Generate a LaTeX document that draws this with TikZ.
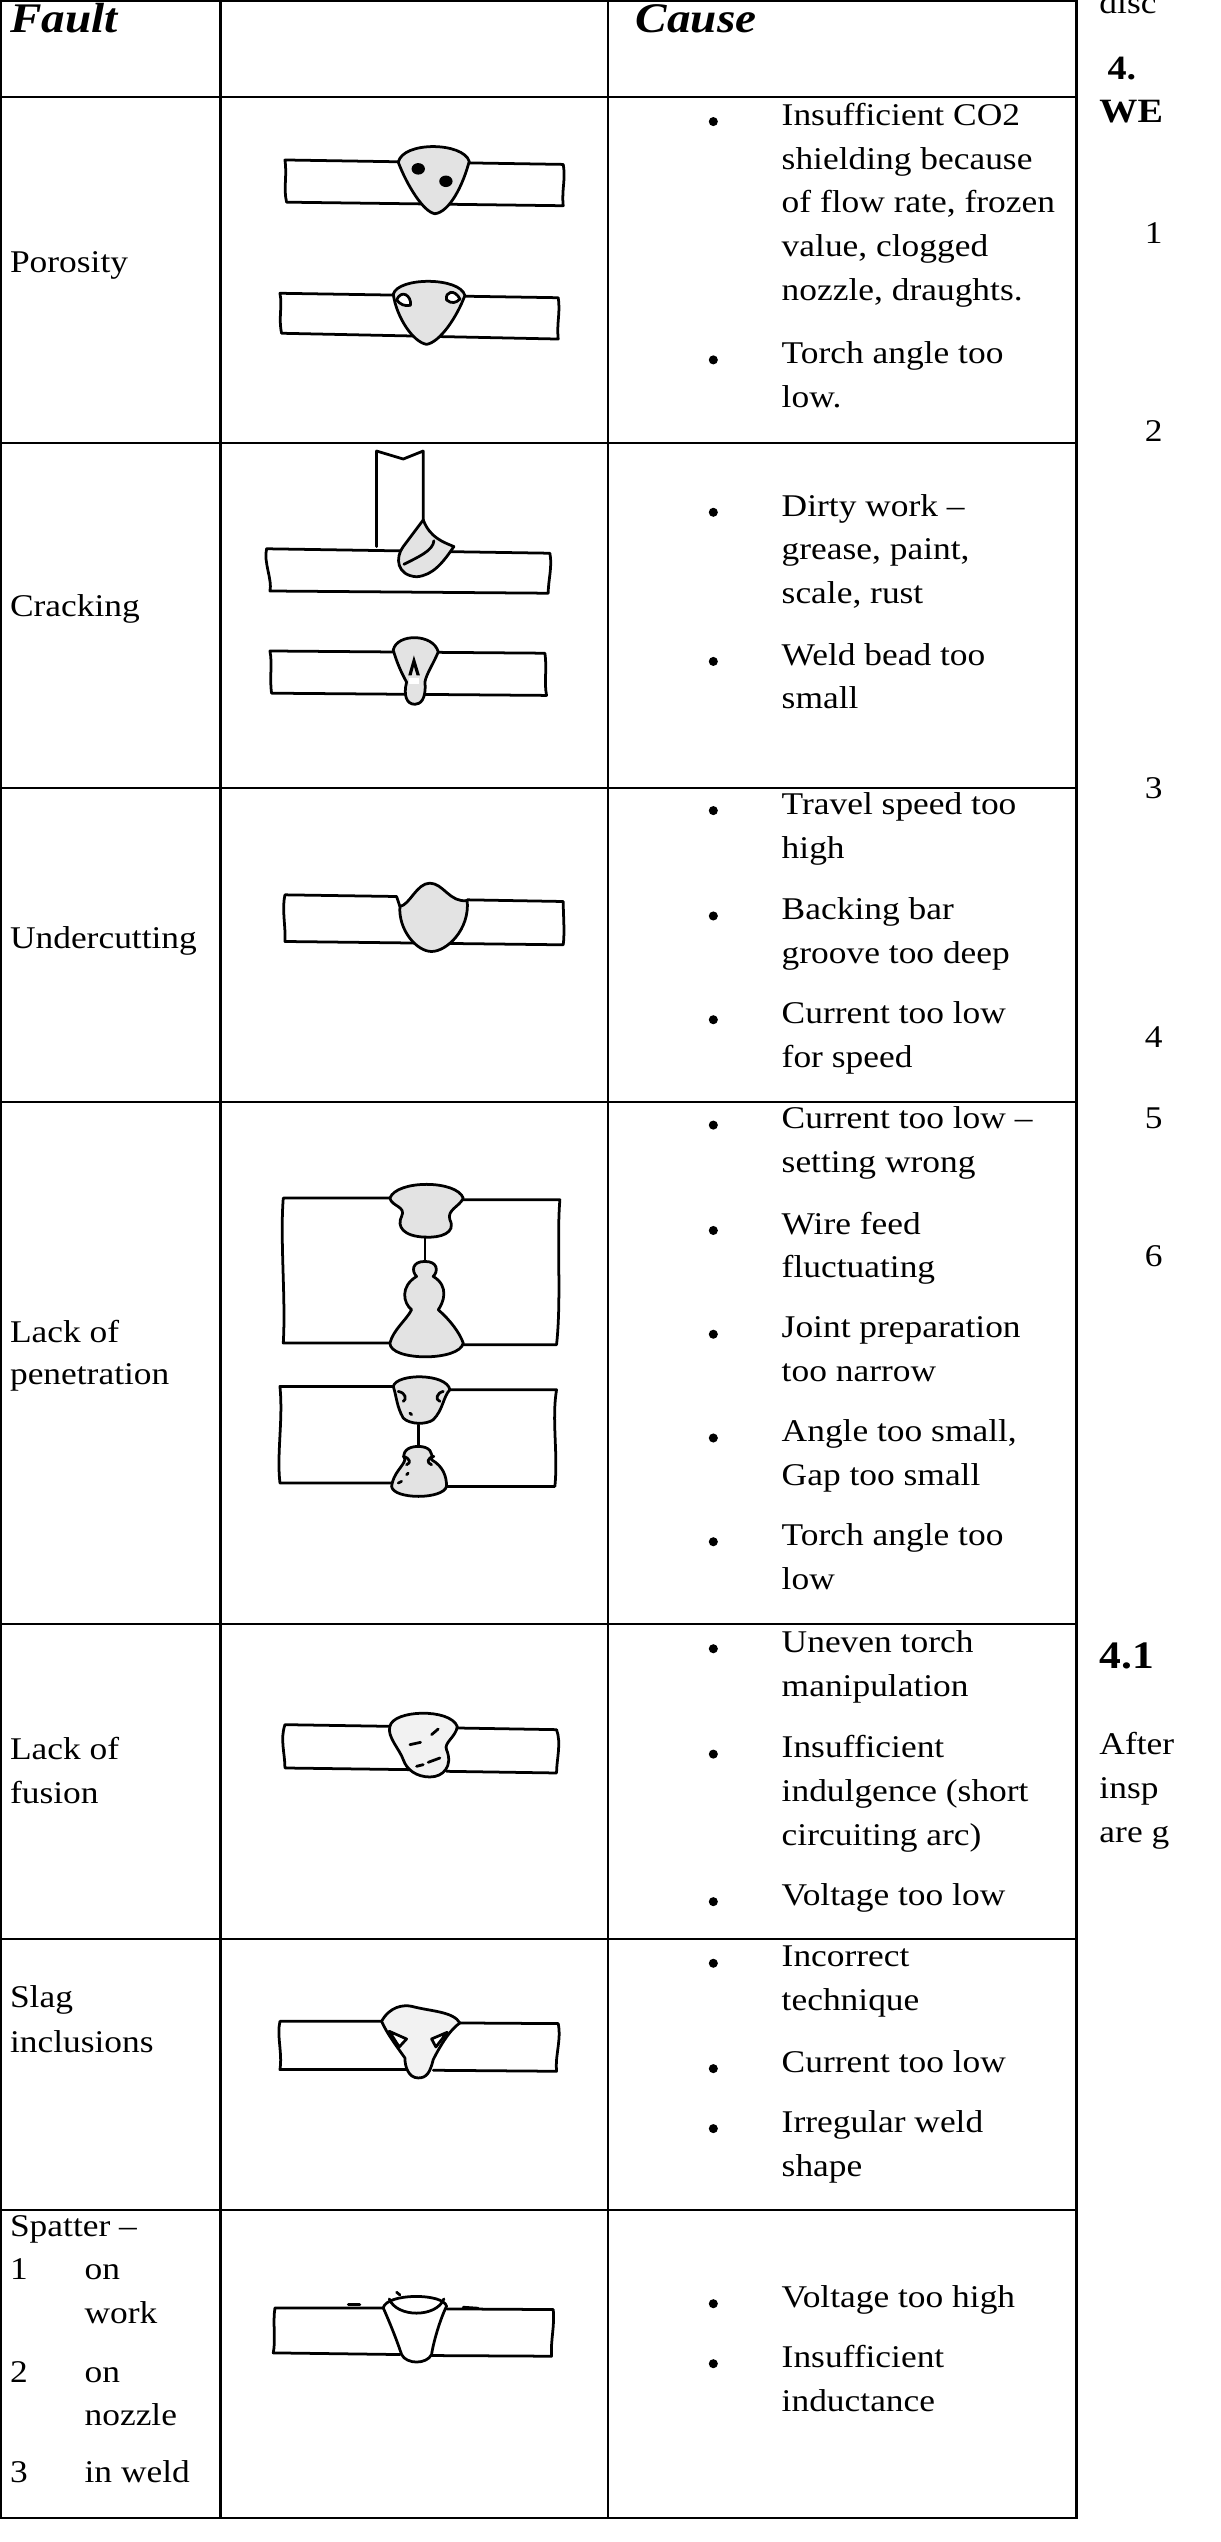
\documentclass[tikz,border=0pt]{standalone}
\usepackage{fontspec}
\setmainfont{Liberation Serif}[FakeStretch=1.12]
\begin{document}
\begin{tikzpicture}[x=1pt,y=-1pt,
  txt/.style={anchor=mid west,inner sep=0pt,font=\fontsize{19.5}{23}\selectfont},
  hd/.style={anchor=mid west,inner sep=0pt,font=\fontsize{26}{30}\selectfont\bfseries\itshape},
  bd/.style={anchor=mid west,inner sep=0pt,font=\fontsize{21}{25}\selectfont\bfseries},
  grid/.style={line width=1.3pt},
  pl/.style={line width=1.7pt,line join=round,line cap=round},
  wd/.style={line width=1.7pt,fill=gray!22,line join=round},
  dr/.style={shift={(141.84,#1)},scale=0.20557}]
\useasboundingbox (0,0) rectangle (753,1568);
\fill[white] (0,0) rectangle (753,1568);
% grid
\draw[grid] (0.7,0.7) rectangle (664,1553);
\draw[grid] (136,0) -- (136,1553);
\draw[grid] (375,0) -- (375,1553);
\foreach \y in {60,273,486,680,1002,1196,1363} \draw[grid] (0,\y) -- (664,\y);
% headers
\node[hd] (hf) at (6,18) {Fault};
\node[hd] (hc) at (392,18) {Cause};
\newcommand\tx[3]{\node[txt] at (#1,#2) {#3};}
\newcommand\cz[2]{\node[txt] at (482,#1) {#2};}
\newcommand\bu[1]{\fill (440,#1) circle (2.8);}
\tx{6}{166}{Porosity}
\tx{6}{378}{Cracking}
\tx{6}{583}{Undercutting}
\tx{6}{826}{Lack of}\tx{6}{852}{penetration}
\tx{6}{1083}{Lack of}\tx{6}{1110}{fusion}
\tx{6}{1236}{Slag}\tx{6}{1264}{inclusions}
\tx{6}{1377}{Spatter –}
\tx{6}{1404}{1}\tx{52}{1404}{on}\tx{52}{1431}{work}
\tx{6}{1467}{2}\tx{52}{1467}{on}\tx{52}{1494}{nozzle}
\tx{6}{1529}{3}\tx{52}{1529}{in weld}
% causes
\bu{75}\cz{75}{Insufficient CO2}\cz{102}{shielding because}\cz{129}{of flow rate, frozen}\cz{156}{value, clogged}\cz{183}{nozzle, draughts.}
\bu{222}\cz{222}{Torch angle too}\cz{249}{low.}
\bu{316}\cz{316}{Dirty work –}\cz{343}{grease, paint,}\cz{370}{scale, rust}
\bu{408}\cz{408}{Weld bead too}\cz{435}{small}
\bu{500}\cz{500}{Travel speed too}\cz{527}{high}
\bu{565}\cz{565}{Backing bar}\cz{592}{groove too deep}
\bu{629}\cz{629}{Current too low}\cz{656}{for speed}
\bu{694}\cz{694}{Current too low –}\cz{721}{setting wrong}
\bu{759}\cz{759}{Wire feed}\cz{786}{fluctuating}
\bu{823}\cz{823}{Joint preparation}\cz{850}{too narrow}
\bu{887}\cz{887}{Angle too small,}\cz{914}{Gap too small}
\bu{951}\cz{951}{Torch angle too}\cz{978}{low}
\bu{1017}\cz{1017}{Uneven torch}\cz{1044}{manipulation}
\bu{1082}\cz{1082}{Insufficient}\cz{1109}{indulgence (short}\cz{1136}{circuiting arc)}
\bu{1173}\cz{1173}{Voltage too low}
\bu{1211}\cz{1211}{Incorrect}\cz{1238}{technique}
\bu{1276}\cz{1276}{Current too low}
\bu{1313}\cz{1313}{Irregular weld}\cz{1340}{shape}
\bu{1421}\cz{1421}{Voltage too high}
\bu{1458}\cz{1458}{Insufficient}\cz{1485}{inductance}
% right partial column
\begin{scope}
\clip (666,0) rectangle (753,1568);
\tx{678}{6}{disc}
\node[bd] at (683,47) {4.};
\node[bd] at (678,73) {WE};
\tx{706}{148}{1}\tx{706}{270}{2}\tx{706}{490}{3}\tx{706}{644}{4}\tx{706}{694}{5}\tx{706}{779}{6}
\node[anchor=mid west,inner sep=0pt,font=\fontsize{24}{28}\selectfont\bfseries] at (678,1027) {4.1};
\tx{678}{1080}{After}\tx{678}{1107}{insp}\tx{678}{1134}{are g}
\end{scope}
% ---------- drawings ----------
% porosity + cracking (zoom1)
\begin{scope}[shift={(141.84,61.67)},xscale=0.20557,yscale=0.27409]
\draw[pl] (165,135) -- (1000,145) .. controls (1008,180) and (995,200) .. (1000,238) -- (170,230) .. controls (160,200) and (172,170) .. cycle;
\draw[wd] (505,140) .. controls (520,92) and (700,95) .. (718,138) .. controls (700,190) and (660,252) .. (615,256) .. controls (580,252) and (530,190) .. cycle;
\fill (565,155) ellipse (20 and 13);
\fill (648,183) ellipse (20 and 13);
\draw[pl] (150,435) -- (985,445) .. controls (992,480) and (980,500) .. (985,538) -- (155,525) .. controls (145,490) and (158,465) .. cycle;
\draw[wd] (490,437) .. controls (505,398) and (690,398) .. (705,440) .. controls (680,490) and (630,545) .. (590,550) .. controls (550,545) and (500,490) .. cycle;
\draw[pl,fill=white] (500,450) .. controls (515,425) and (545,440) .. (542,462) .. controls (525,465) and (510,460) .. cycle;
\draw[pl,fill=white] (690,448) .. controls (675,425) and (645,430) .. (650,450) .. controls (665,460) and (680,456) .. cycle;
% cracking
\draw[pl] (440,1005) -- (440,790) -- (520,808) -- (580,790) -- (580,945);
\draw[pl] (110,1010) -- (960,1020) .. controls (968,1050) and (955,1080) .. (955,1110) -- (120,1105) .. controls (128,1080) and (100,1040) .. cycle;
\draw[wd] (580,945) .. controls (600,985) and (640,995) .. (672,1005) .. controls (640,1040) and (610,1070) .. (560,1073) .. controls (500,1070) and (495,1030) .. (520,1005) .. controls (540,985) and (560,965) .. cycle;
\draw[pl] (522,1045) .. controls (560,1030) and (610,1015) .. (612,992);
\draw[pl] (120,1240) -- (945,1245) .. controls (952,1280) and (942,1310) .. (950,1340) -- (125,1335) .. controls (118,1300) and (128,1270) .. cycle;
\draw[wd] (490,1238) .. controls (500,1200) and (610,1200) .. (625,1242) .. controls (610,1270) and (590,1290) .. (585,1310) .. controls (590,1350) and (570,1360) .. (555,1360) .. controls (530,1360) and (520,1340) .. (530,1310) .. controls (515,1290) and (500,1265) .. cycle;
\fill (535,1295) -- (552,1250) -- (570,1295) -- (560,1295) -- (552,1275) -- (545,1295) -- cycle;
\fill[white] (538,1300) rectangle (566,1315);
\end{scope}
% undercutting (zoom4)
\begin{scope}[dr=542.71]
\draw[pl] (500,50) -- (165,45) .. controls (155,90) and (168,140) .. (165,185) -- (1000,195) .. controls (1005,160) and (1000,100) .. (1000,65) -- (712,60);
\draw[wd] (510,80) .. controls (540,75) and (560,10) .. (600,10) .. controls (640,10) and (660,70) .. (712,62) .. controls (720,150) and (650,215) .. (605,215) .. controls (560,215) and (505,150) .. cycle;
\draw[pl] (500,50) -- (510,80);
\end{scope}
% lack of penetration (zoom2)
\begin{scope}[dr=678.39]
\draw[pl] (480,295) -- (160,295) .. controls (150,420) and (168,600) .. (160,730) -- (480,730);
\draw[pl] (700,300) -- (990,300) .. controls (980,420) and (995,600) .. (980,735) -- (700,735);
\draw[wd] (480,295) .. controls (500,240) and (680,240) .. (700,295) .. controls (690,320) and (650,330) .. (660,360) .. controls (680,400) and (630,415) .. (585,412) .. controls (520,410) and (500,380) .. (515,350) .. controls (530,320) and (485,320) .. cycle;
\draw[pl] (585,412) -- (585,485);
\draw[wd] (585,485) .. controls (625,485) and (625,515) .. (610,530) .. controls (660,560) and (640,610) .. (625,630) .. controls (660,660) and (690,700) .. (700,730) .. controls (690,785) and (480,785) .. (480,730) .. controls (490,690) and (530,660) .. (545,630) .. controls (520,610) and (510,560) .. (560,530) .. controls (545,515) and (545,485) .. cycle;
\draw[pl] (490,860) -- (150,860) .. controls (160,960) and (140,1060) .. (150,1150) -- (485,1150);
\draw[pl] (660,870) -- (980,870) .. controls (965,960) and (985,1060) .. (975,1160) -- (650,1160);
\draw[wd] (490,860) .. controls (500,820) and (650,820) .. (660,870) .. controls (640,890) and (640,930) .. (610,960) .. controls (590,975) and (540,975) .. (520,955) .. controls (500,920) and (500,890) .. cycle;
\draw[pl] (565,975) -- (565,1040);
\draw[wd] (565,1040) .. controls (600,1040) and (610,1060) .. (605,1080) .. controls (640,1100) and (650,1130) .. (650,1160) .. controls (640,1200) and (490,1200) .. (485,1160) .. controls (490,1120) and (520,1100) .. (525,1080) .. controls (515,1060) and (530,1040) .. cycle;
\draw[pl] (505,875) .. controls (530,880) and (530,900) .. (520,905);
\draw[pl] (640,875) .. controls (620,880) and (615,900) .. (630,905);
\draw[pl] (520,1070) .. controls (540,1075) and (545,1090) .. (530,1095);
\draw[pl] (612,1070) .. controls (590,1075) and (590,1090) .. (605,1095);
\draw[pl] (505,1150) -- (515,1145) (530,1125) -- (535,1120) (540,940) -- (545,945);
\end{scope}
% lack of fusion (zoom5)
\begin{scope}[dr=1048.41]
\draw[pl] (480,80) -- (165,75) .. controls (150,120) and (165,160) .. (165,205) -- (540,210);
\draw[pl] (682,85) -- (980,90) .. controls (995,130) and (980,180) .. (980,220) -- (650,215);
\draw[wd,fill=gray!10] (480,80) .. controls (490,30) and (660,25) .. (682,80) .. controls (680,110) and (640,130) .. (650,150) .. controls (670,200) and (640,232) .. (600,232) .. controls (560,232) and (530,210) .. (520,180) .. controls (510,150) and (470,110) .. cycle;
\draw[pl] (605,105) -- (625,88) (540,135) -- (572,128) (560,200) -- (580,195) (595,188) -- (630,175);
\end{scope}
% slag (zoom6)
\begin{scope}[dr=1233.43]
\draw[pl] (455,65) -- (150,65) .. controls (140,110) and (158,160) .. (150,210) -- (530,210);
\draw[pl] (690,70) -- (985,72) .. controls (995,120) and (975,170) .. (980,215) -- (610,212);
\draw[wd,fill=gray!10] (455,65) .. controls (480,20) and (520,15) .. (545,20) .. controls (600,35) and (670,35) .. (690,70) .. controls (660,90) and (630,140) .. (610,180) .. controls (600,220) and (590,235) .. (565,235) .. controls (535,235) and (525,200) .. (525,175) .. controls (500,140) and (470,100) .. cycle;
\draw[pl,fill=white] (478,95) -- (530,118) -- (508,142) -- cycle;
\draw[pl,fill=white] (652,98) -- (605,118) -- (618,142) -- cycle;
\end{scope}
% spatter (zoom7)
\begin{scope}[dr=1381.44]
\draw[pl] (460,205) -- (135,205) .. controls (128,250) and (138,300) .. (130,340) -- (510,345);
\draw[pl] (650,208) -- (970,210) .. controls (975,260) and (962,300) .. (965,350) -- (605,348);
\draw[pl,fill=white] (460,205) .. controls (470,160) and (640,160) .. (650,200) .. controls (630,240) and (610,310) .. (605,345) .. controls (590,375) and (530,375) .. (515,345) .. controls (500,300) and (480,250) .. cycle;
\draw[pl] (478,178) .. controls (500,235) and (620,235) .. (642,178);
\draw[pl] (355,195) -- (390,195) (700,203) -- (745,206) (500,158) -- (510,166);
\end{scope}
\end{tikzpicture}
\end{document}
